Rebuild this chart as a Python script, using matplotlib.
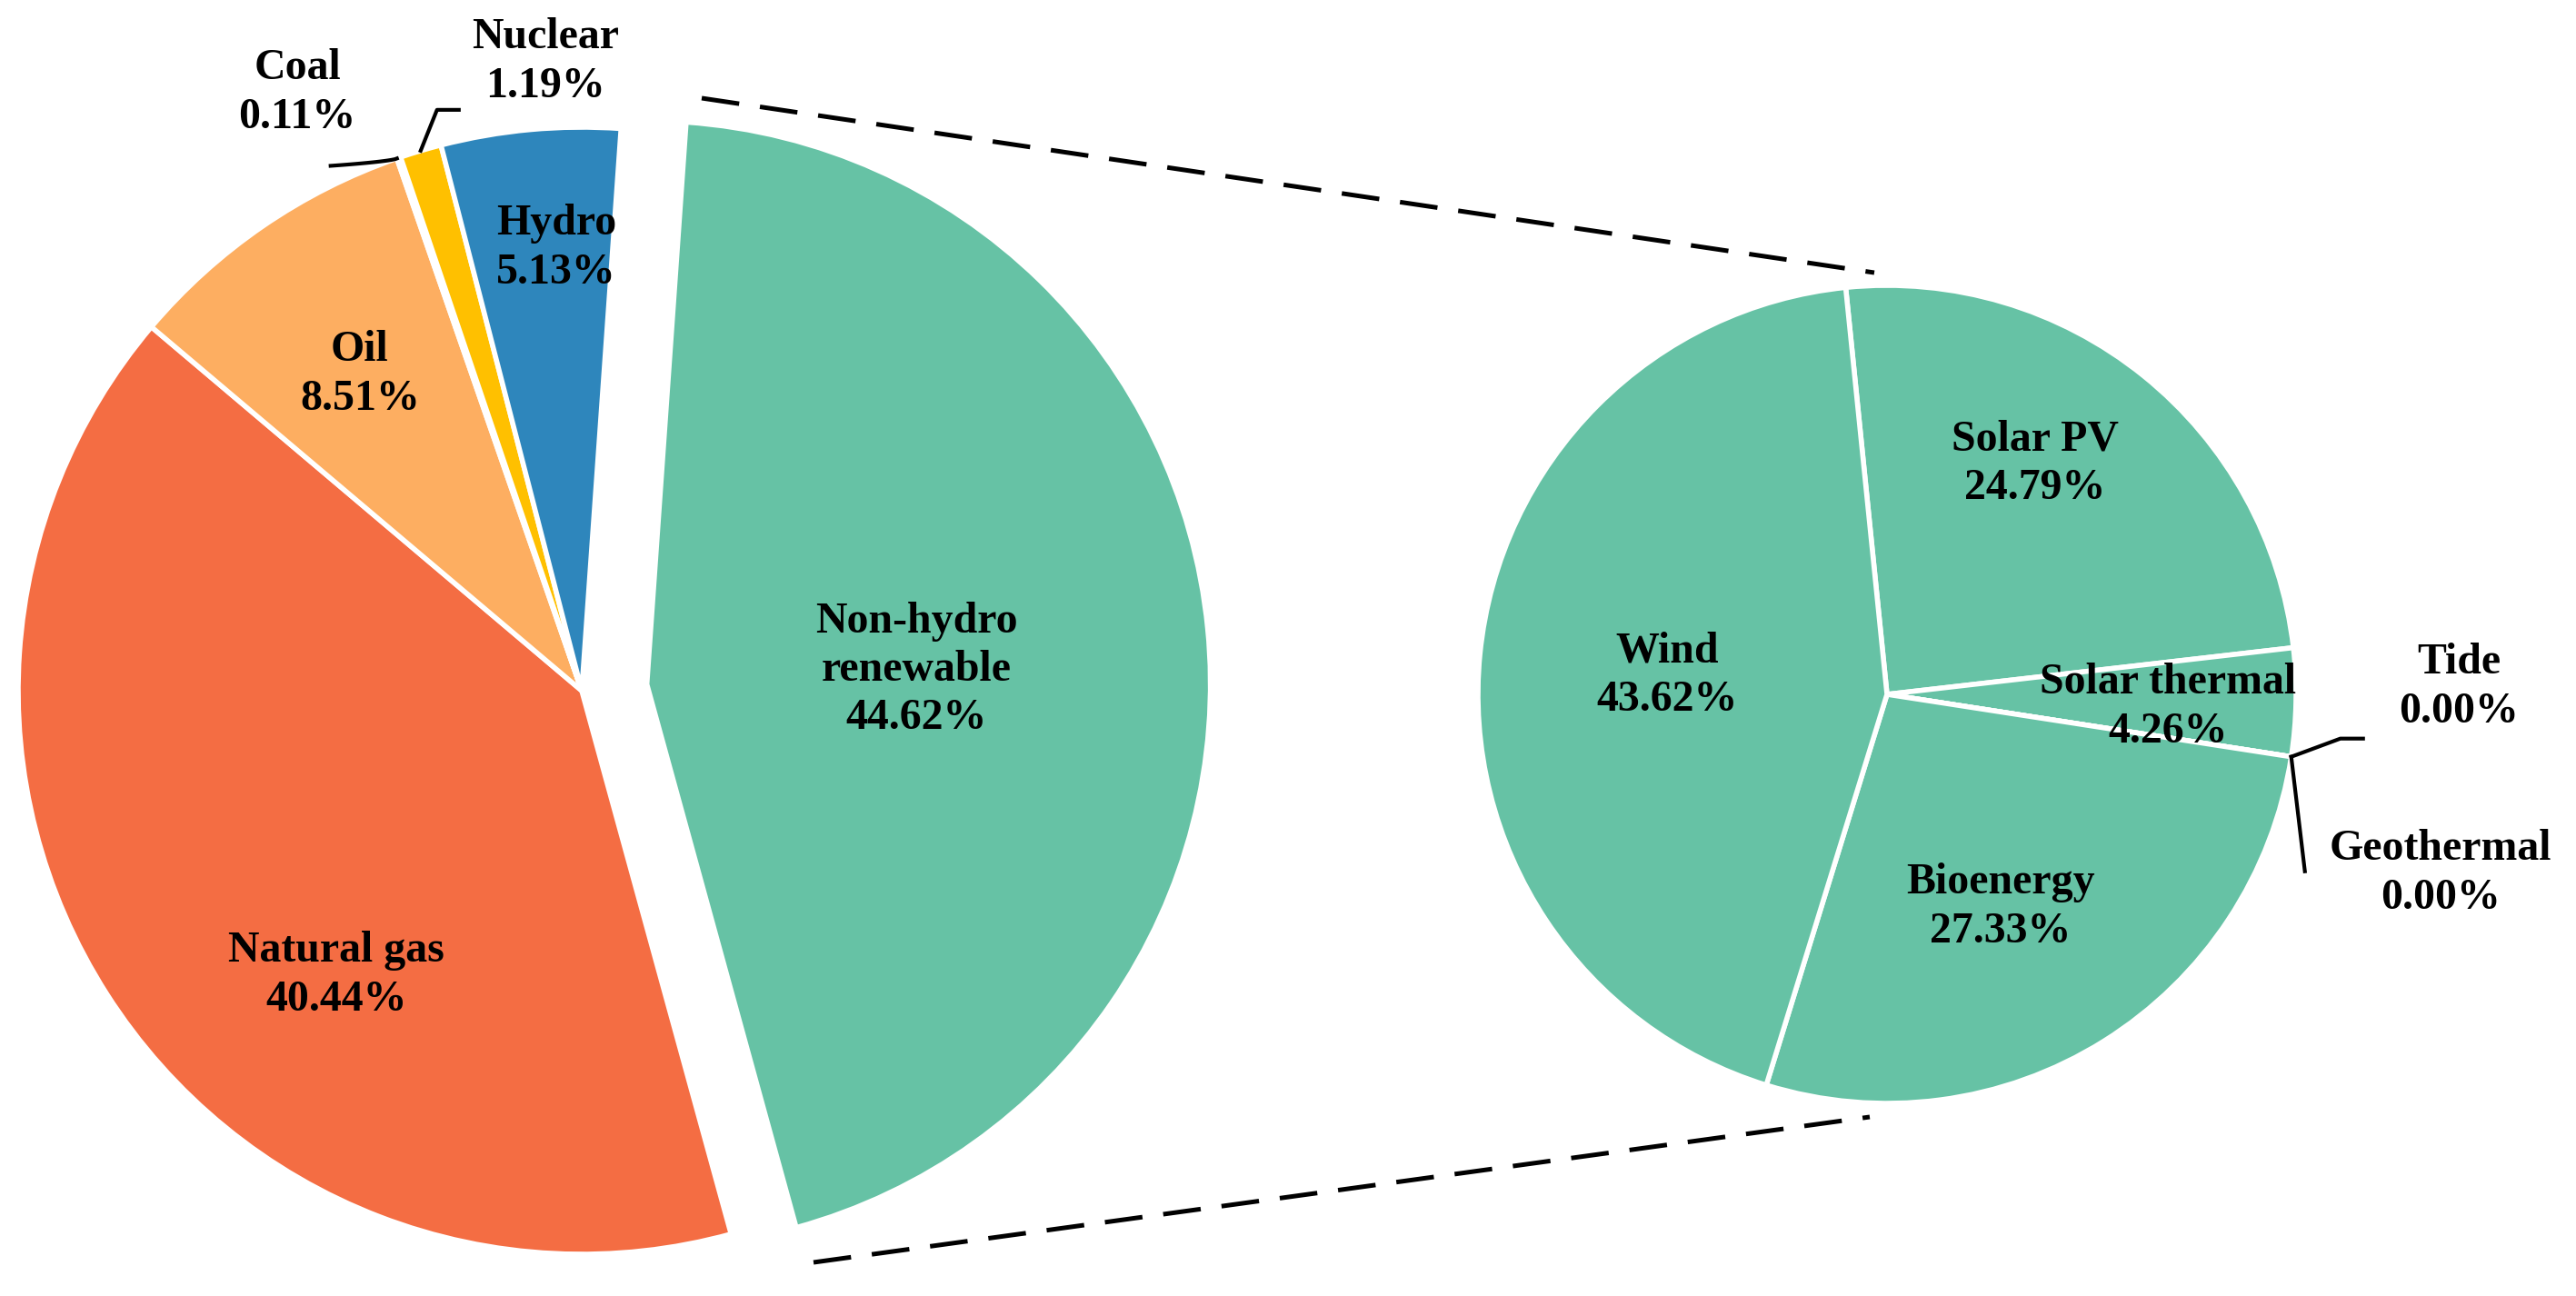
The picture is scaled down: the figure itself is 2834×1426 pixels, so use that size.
import matplotlib
matplotlib.use("Agg")
import matplotlib.pyplot as plt
import numpy as np

# ---------------- data ----------------
main_labels = ["Non-hydro\nrenewable", "Natural gas", "Oil", "Coal", "Nuclear", "Hydro"]
main_values = [44.62, 40.44, 8.51, 0.11, 1.19, 5.13]
main_colors = ["#66C2A5", "#F46D43", "#FDAE61", "#7F7F7F", "#FFC000", "#2E86BC"]

sub_labels = ["Solar PV", "Solar thermal", "Tide", "Geothermal", "Bioenergy", "Wind"]
sub_values = [24.79, 4.26, 0.00, 0.00, 27.33, 43.62]
sub_color = "#66C2A5"

# ---------------- layout (image pixel coords, y downwards) ----------------
W, H = 2834, 1426
def Y(y):
    return H - y

main_c = (640, 760)
main_r = 620
main_start = 86.0
explode_px = 72

sub_c = (2076, 764)
sub_r = 450
sub_start = 95.8

main_text_pos = {
    "Non-hydro\nrenewable": (1008, 737),
    "Natural gas": (370, 1073),
    "Oil": (396, 412),
    "Coal": (327, 102),
    "Nuclear": (600, 68),
    "Hydro": (612, 273),
}
sub_text_pos = {
    "Solar PV": (2239, 510),
    "Solar thermal": (2385, 778),
    "Tide": (2705, 756),
    "Geothermal": (2685, 961),
    "Bioenergy": (2201, 998),
    "Wind": (1834, 743),
}

plt.rcParams['font.family'] = ['Liberation Serif', 'DejaVu Serif']
FS = 34.5

fig = plt.figure(figsize=(W / 100, H / 100), dpi=100)
ax = fig.add_axes([0, 0, 1, 1])

explode = [explode_px if l.startswith("Non-hydro") else 0 for l in main_labels]
ax.pie(main_values, colors=main_colors, startangle=main_start, counterclock=False,
       radius=main_r, center=(main_c[0], Y(main_c[1])), explode=explode,
       wedgeprops=dict(edgecolor="white", linewidth=4))
ax.pie(sub_values, colors=[sub_color] * len(sub_values), startangle=sub_start,
       counterclock=False, radius=sub_r, center=(sub_c[0], Y(sub_c[1])),
       wedgeprops=dict(edgecolor="white", linewidth=4))

def txt(pos, s):
    ax.text(pos[0], Y(pos[1]), s, ha="center", va="center", fontsize=FS,
            fontweight="bold", color="black", linespacing=1.27)

for lab, v in zip(main_labels, main_values):
    txt(main_text_pos[lab], f"{lab}\n{v:.2f}%")
for lab, v in zip(sub_labels, sub_values):
    txt(sub_text_pos[lab], f"{lab}\n{v:.2f}%")

# leader lines
def wedge_mid_point(values, start, idx, c, r):
    tot = sum(values)
    a0 = start - 360 * sum(values[:idx]) / tot
    a1 = a0 - 360 * values[idx] / tot
    am = np.deg2rad((a0 + a1) / 2)
    return c[0] + r * np.cos(am), c[1] - r * np.sin(am)

cx, cy = wedge_mid_point(main_values, main_start, main_labels.index("Coal"), main_c, main_r)
xs = np.linspace(cx, cx - 77, 20)
ys = cy + 9 * ((xs - cx) / -77) ** 0.6
ax.plot(xs, [Y(v) for v in ys], color="black", lw=3, solid_capstyle="butt")

nx, ny = wedge_mid_point(main_values, main_start, main_labels.index("Nuclear"), main_c, main_r)
ax.plot([nx, nx + 18, nx + 42], [Y(ny), Y(ny - 45), Y(ny - 45)], color="black", lw=3)

tx, ty = wedge_mid_point(sub_values, sub_start, sub_labels.index("Tide"), sub_c, sub_r)
ax.plot([tx, tx + 54, tx + 79], [Y(ty), Y(ty - 20), Y(ty - 20)], color="black", lw=3)
ax.plot([tx, tx + 15], [Y(ty), Y(ty + 126)], color="black", lw=3)

# dashed connector lines
dash = (0, (30 / 3.6, 16.6 / 3.6))
ax.plot([772, 2062], [Y(108), Y(300)], color="black", lw=3.6, linestyle=dash)
ax.plot([895, 2057], [Y(1389), Y(1229)], color="black", lw=3.6, linestyle=dash)

ax.set_xlim(0, W)
ax.set_ylim(0, H)
ax.set_aspect("equal")
ax.axis("off")
fig.savefig("out.png", dpi=100, facecolor="white")
